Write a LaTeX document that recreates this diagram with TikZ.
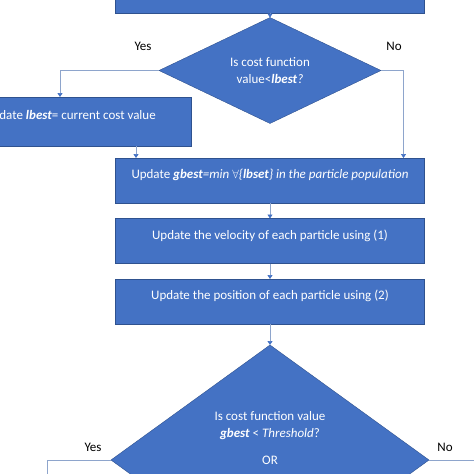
\documentclass[tikz,border=0pt]{standalone}
\usepackage{fontspec}
\setmainfont{Carlito}
\usetikzlibrary{shapes.geometric}
\usetikzlibrary{arrows.meta}
\definecolor{boxblue}{HTML}{4472C4}
\definecolor{boxedge}{HTML}{2F528F}
\definecolor{linkgray}{HTML}{8EA5CC}
\tikzset{x=1pt, y=-1pt, % One unit per pixel of the reference, y going down
every node/.style={font=\fontsize{13}{17}\selectfont},
process/.style={ % Sets the properties for each step box
rectangle,
draw=boxedge,
fill=boxblue,
text=white,
minimum width=309pt,
minimum height=45pt,
text depth=13pt, % Lifts the text a little above the middle
inner sep=0pt,
outer sep=0pt},
decision/.style={ % Sets the properties for each test
diamond,
draw=boxedge,
fill=boxblue,
text=white,
align=center,
inner sep=0pt,
outer sep=0pt},
answer/.style={text=black},
flow/.style={ % Connectors with a small blue head
draw=linkgray,
semithick,
-{Triangle[length=4pt,width=5pt,color=boxblue]}},
link/.style={draw=linkgray, semithick}}

\begin{document}
\begin{tikzpicture}
\useasboundingbox (0,0) rectangle (474,474);
\clip (0,0) rectangle (474,474);
\node[process, minimum height=50pt] (eval) at (270,-12) {};
\node[decision, minimum width=222pt, minimum height=85pt] (lcheck) at (270,70.5)
{Is cost function\\value<\textbf{\textit{lbest}}\textit{?}};
\node[process, minimum width=242pt, minimum height=49pt] (lbest) at (70,121.5)
{Update \textbf{\textit{lbest}}= current cost value};
\node[process] (gbest) at (270,180.5)
{Update \textbf{\textit{gbest}}\textit{=min $\forall$\{}\textbf{\textit{lbset}}\textit{\} in the particle population}};
\node[process] (velocity) at (270,241) {Update the velocity of each particle using (1)};
\node[process] (position) at (270,301.5) {Update the position of each particle using (2)};
\node[decision, minimum width=318pt, minimum height=230pt] (gcheck) at (270,460) {};
\node[text=white, align=center] (gtext) at (270,438)
{Is cost function value\\\textbf{\textit{gbest}} < \textit{Threshold}?\\[10pt]OR};
\node[answer] (yes1) at (143,46) {Yes};
\node[answer] (no1) at (394,46) {No};
\node[answer] (yes2) at (93,447) {Yes};
\node[answer] (no2) at (445,447) {No};
\coordinate (yesout) at (47,490);
\coordinate (noout) at (480,460);
\draw (eval) edge[flow] (lcheck)
(gbest) edge[flow] (velocity)
(velocity) edge[flow] (position)
(position) edge[flow] (gcheck);
\draw[flow] (lcheck.west) -| ([xshift=-10pt]lbest.north);
\draw[flow] (lcheck.east) -| ([xshift=-21pt]gbest.north east);
\draw[flow] ([xshift=-55pt]lbest.south east) -- ([xshift=-55pt]lbest.south east |- gbest.north);
\draw[link] (gcheck.west) -| (yesout);
\draw[link] (gcheck.east) -- (noout);
\end{tikzpicture}
\end{document}
